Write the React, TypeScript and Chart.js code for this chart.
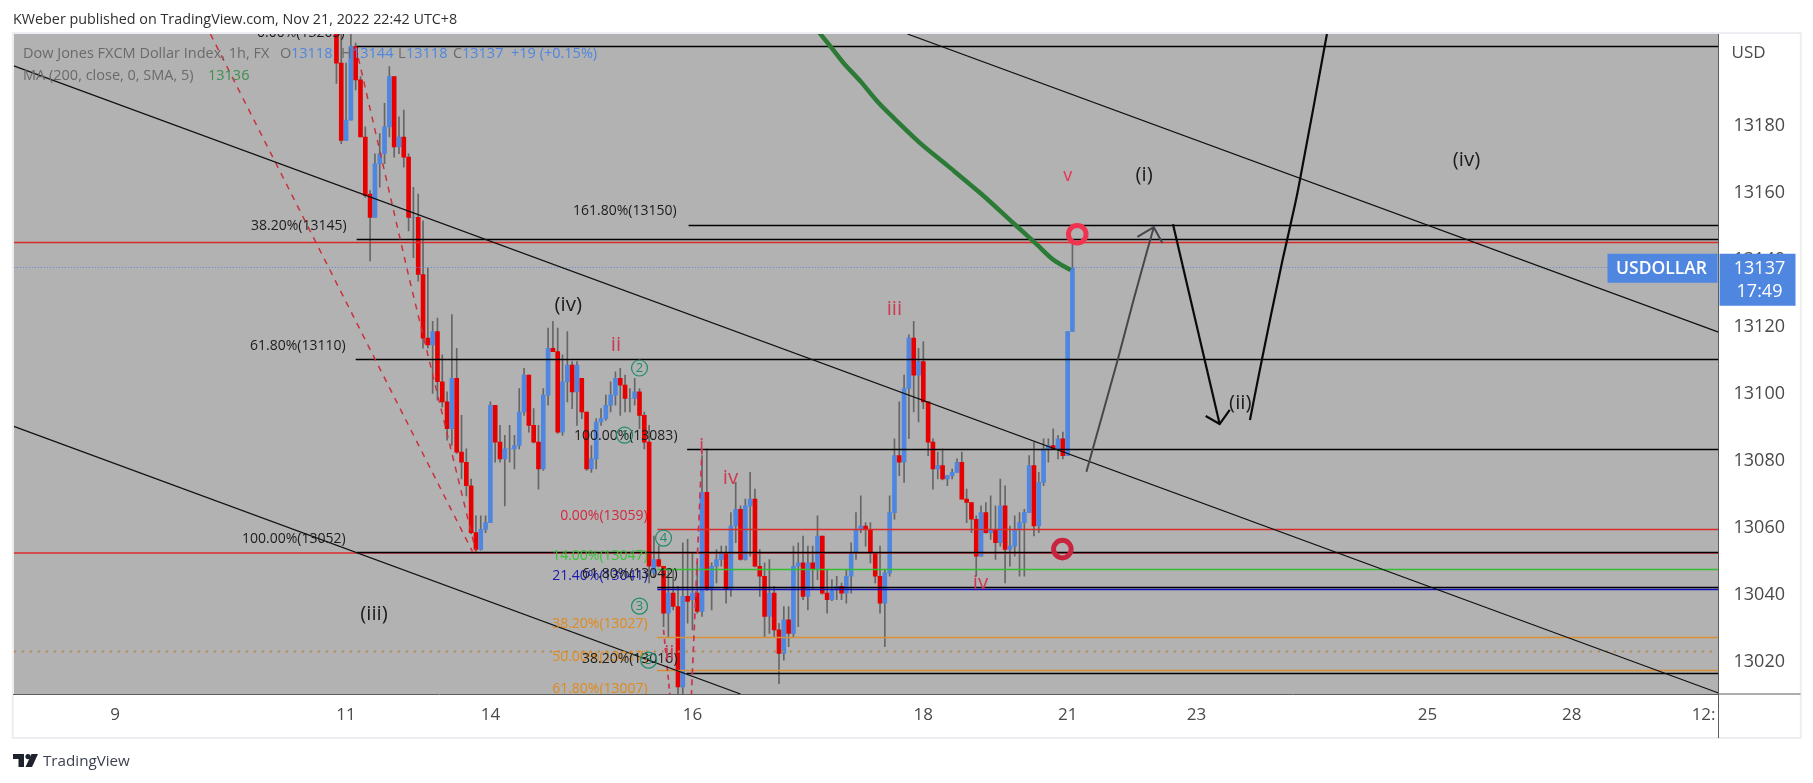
import React, { useEffect, useRef } from "react";
import { Chart, registerables } from "chart.js";

Chart.register(...registerables);

// one hourly bar per index, bar 0 is the first one visible at the top left
const opens = [
  13225, 13198, 13175, 13181, 13203, 13193, 13176, 13159, 13152, 13168,
  13171, 13179, 13194, 13173, 13176, 13170, 13152, 13152, 13135, 13116,
  13114, 13118, 13103, 13097, 13089, 13104, 13082, 13079, 13072, 13058,
  13053, 13059, 13061, 13096, 13085, 13080, 13083, 13083, 13084, 13094,
  13105, 13090, 13085, 13077, 13099, 13113, 13112, 13088, 13103, 13108,
  13100, 13104, 13094, 13077, 13080, 13091, 13092, 13096, 13099, 13104,
  13102, 13098, 13098, 13100, 13093, 13085, 13046, 13050, 13048, 13034,
  13040, 13036, 13012, 13039, 13038, 13040, 13034.5, 13070, 13041, 13048,
  13050, 13052, 13041, 13060, 13065, 13050, 13066, 13068, 13048, 13045,
  13033, 13040, 13029, 13022, 13032, 13028, 13048, 13049, 13039, 13049,
  13047, 13057, 13040, 13038, 13041, 13042, 13040, 13045, 13052, 13059,
  13060, 13059, 13052, 13045, 13037, 13046, 13064, 13081, 13079, 13101,
  13116, 13105, 13109, 13097, 13085, 13077, 13078, 13074, 13075, 13076,
  13079, 13068, 13067, 13062, 13051, 13064, 13058, 13059, 13055, 13066,
  13053, 13054, 13059, 13061, 13064, 13078, 13060, 13073, 13083, 13084,
  13083, 13086, 13081, 13118,
];
const closes = [
  13198, 13175, 13181, 13203, 13193, 13176, 13158.5, 13152, 13168, 13171,
  13179, 13194, 13173, 13176, 13170, 13152, 13152, 13135, 13116, 13114,
  13118, 13103, 13097, 13089, 13104, 13082, 13079, 13072, 13058, 13053,
  13059, 13061, 13096, 13085, 13080, 13083, 13083, 13084, 13094, 13105,
  13090, 13085, 13077, 13099, 13113, 13112, 13088, 13103, 13108, 13100,
  13108, 13094, 13077, 13080, 13091, 13092, 13096, 13099, 13104, 13102,
  13098, 13098, 13100, 13093, 13085, 13048, 13050, 13048, 13034, 13040,
  13036, 13012, 13039, 13037.5, 13040, 13034.5, 13070, 13041, 13048, 13050,
  13052, 13041, 13060, 13065, 13050, 13066, 13068, 13048, 13045, 13033,
  13040, 13029, 13022, 13032, 13028, 13048, 13049, 13039, 13049, 13047,
  13057, 13040, 13038, 13041, 13042, 13040, 13045, 13052, 13059, 13060,
  13059, 13052, 13045, 13037, 13046, 13064, 13081, 13079, 13101, 13116,
  13105, 13109, 13097, 13085, 13077, 13078, 13074, 13075, 13076, 13079,
  13068, 13067, 13062, 13051, 13064, 13058, 13059, 13055, 13066, 13053,
  13054, 13059, 13061, 13064, 13078, 13060, 13073, 13083, 13084, 13083,
  13086, 13081, 13118, 13137,
];
const highs = [
  13230, 13209, 13198, 13210, 13204, 13194, 13179, 13160, 13171, 13177,
  13186, 13197, 13194, 13182, 13184, 13171, 13161, 13159, 13151, 13137,
  13121, 13122, 13111, 13100, 13123, 13113, 13093, 13083, 13074, 13063,
  13063, 13063, 13097, 13096, 13090, 13087, 13090, 13087, 13101, 13107,
  13105, 13095, 13090, 13101, 13119, 13121, 13119, 13111, 13118, 13109,
  13109, 13104, 13094, 13084, 13092, 13095, 13099, 13103, 13106, 13107,
  13105, 13101, 13104, 13101, 13094, 13090, 13057, 13054, 13048, 13047,
  13047, 13042, 13055, 13056, 13052, 13049, 13081, 13083, 13049, 13053,
  13054, 13054, 13064, 13073, 13066, 13068, 13076, 13071, 13053, 13049,
  13050, 13042, 13031, 13036, 13036, 13054, 13055, 13057, 13054, 13054,
  13063, 13057, 13047, 13044, 13045, 13043, 13047, 13055, 13064, 13069,
  13061, 13061, 13052, 13054, 13047, 13069, 13086, 13097, 13105, 13117,
  13121, 13113, 13115, 13097, 13086, 13082, 13083, 13075, 13077, 13080,
  13082, 13071, 13067, 13063, 13066, 13067, 13069, 13066, 13074, 13072,
  13060, 13063, 13064, 13065, 13081, 13085, 13076, 13086, 13086, 13089,
  13087, 13088, 13118, 13144,
];
const lows = [
  13192, 13174, 13175, 13181, 13190, 13176, 13158, 13139, 13152, 13161,
  13168, 13176, 13170, 13171, 13167, 13148, 13140, 13133, 13113, 13113,
  13099.5, 13097.5, 13095.5, 13085.6, 13084, 13081.6, 13074, 13069, 13057.6, 13052.5,
  13052.8, 13058, 13061, 13079, 13079, 13066, 13079, 13077, 13083, 13093,
  13088, 13084.8, 13071, 13076.6, 13096, 13112, 13087.6, 13087, 13097, 13095,
  13090, 13092, 13076.6, 13076, 13077, 13090, 13091.5, 13094, 13096, 13093,
  13094, 13094, 13096, 13089, 13083, 13043, 13044.8, 13047.8, 13030, 13027,
  13035, 13010, 13010, 13031, 13029, 13034, 13033, 13040.7, 13035, 13043,
  13048, 13037, 13039, 13055, 13049.8, 13049.8, 13051, 13047.8, 13039, 13027,
  13028, 13027, 13013, 13020, 13024, 13027, 13030, 13038, 13035, 13041,
  13044, 13039.7, 13034, 13037.7, 13038, 13038, 13037, 13040, 13050, 13058,
  13054, 13049, 13043, 13034, 13024, 13045, 13062, 13075, 13073, 13086,
  13094, 13091, 13095, 13081, 13071, 13074, 13073.7, 13072, 13074, 13076,
  13068, 13061, 13058, 13045, 13051, 13057.8, 13056, 13050, 13054, 13043,
  13048, 13051, 13045, 13045, 13064, 13057, 13058, 13072, 13079, 13083,
  13080, 13080, 13081, 13118,
];

const maBars = [99.5, 100.6, 102.7, 105.5, 109, 112.5, 115.9, 121.4, 126.9, 133.9, 140.8, 145.7, 149.1, 152.6];
const maValues = [13209, 13206.7, 13203, 13197.9, 13192.5, 13186.5, 13181.6, 13174.1, 13167.6, 13159.2, 13150.2, 13143.8, 13139.3, 13136.3];

const yTickValues = [13020, 13040, 13060, 13080, 13100, 13120, 13140, 13160, 13180];
const xTickBars = [-46, 2, 32, 74, 122, 152, 178.8, 226.8, 256.8, 284.2];
const xTickLabels = ["9", "11", "14", "16", "18", "21", "23", "25", "28", "12:"];

const firstBar = -67.07;
const lastBar = 287.3;
const lastPrice = 13137;

// horizontal fib levels: price, first bar
const blackLevels = [
  [13202.97, 4.2], [13149.6, 73.2], [13145.42, 4.2], [13109.64, 4], [13082.81, 72.9],
  [13052.1, 4.2], [13041.66, 66.7], [13016.01, 72.8],
];
const redLevels = [[13144.53, firstBar], [13051.95, firstBar], [13058.95, 66.7]];
const orangeLevels = [[13026.75, 66.7], [13016.91, 66.7]];
const greenLevels = [[13047.02, 66.7]];
const blueLevels = [[13041.06, 66.7]];
const dottedOrangeLevel = 13022.57;
const dottedLastLevel = 13137.07;

// drawn trend lines as [bar, price]
const channelUpper = [[118.7, 13206.7], [lastBar, 13117.8]];
const channelMiddle = [[firstBar, 13197.2], [lastBar, 13010.2]];
const channelLower = [[firstBar, 13089.7], [84, 13009.9]];
const dashedOne = [[-26.2, 13206.7], [28.3, 13052.3]];
const dashedTwo = [[4, 13203], [15.2, 13133.4], [29, 13052.3]];
const dashedThree = [[76, 13083.1], [73.8, 13009.9]];
const dashedFour = [[68, 13029], [69.3, 13009.9]];
const grayArrow = [[155.9, 13076.2], [162.4, 13109.5], [165.7, 13127.4], [169.9, 13149.1]];
const grayArrowHead = [[166.5, 13146.2], [169.9, 13149.1], [171.7, 13144.4]];
const blackDown = [[173.9, 13150], [183.6, 13090.4]];
const blackDownHead = [[180.7, 13092.8], [183.6, 13090.4], [185.7, 13094.6]];
const blackUp = [[189.9, 13091.6], [192.4, 13109.7], [196.3, 13136.8], [198.2, 13149], [200, 13161], [205.9, 13206.7]];

const ringUpper = [[154, 13147]];
const ringLower = [[150.9, 13053.1]];

// text on the chart, anchored by bar and price
const waveLabels: [string, number, number, string][] = [
  ["(iv)", 48.2, 13125.9, "#1c1c1c"],
  ["(iii)", 7.8, 13033.8, "#1c1c1c"],
  ["(i)", 167.9, 13164.6, "#1c1c1c"],
  ["(ii)", 187.9, 13096.5, "#1c1c1c"],
  ["(iv)", 234.9, 13169.1, "#1c1c1c"],
  ["ii", 58.1, 13114, "#cf3a52"],
  ["i", 75.9, 13083.8, "#cf3a52"],
  ["iv", 81.9, 13074.3, "#cf3a52"],
  ["ii", 69.2, 13022.1, "#cf3a52"],
  ["iii", 116, 13124.7, "#cf3a52"],
  ["iv", 133.9, 13043, "#cf3a52"],
  ["v", 152, 13164.4, "#e8324f"],
];
const circledLabels: [string, number, number][] = [
  ["1", 59.9, 13087.1],
  ["2", 63, 13107.1],
  ["3", 63, 13036.1],
  ["4", 68, 13056.4],
  ["5", 64.9, 13020],
];
const fibLabels: [string, number, number, string][] = [
  ["0.00%(13203)", 1.7, 13207, "#1c1c1c"],
  ["38.20%(13145)", 2.1, 13149.4, "#1c1c1c"],
  ["161.80%(13150)", 70.7, 13153.9, "#1c1c1c"],
  ["61.80%(13110)", 1.9, 13113.8, "#1c1c1c"],
  ["100.00%(13083)", 70.9, 13086.9, "#1c1c1c"],
  ["0.00%(13059)", 64.7, 13063, "#d3283c"],
  ["100.00%(13052)", 1.9, 13056.1, "#1c1c1c"],
  ["14.00%(13047)", 64.7, 13051, "#35c435"],
  ["21.40%(13041)", 64.7, 13045, "#1a1ab0"],
  ["61.80%(13042)", 70.9, 13045.6, "#1c1c1c"],
  ["38.20%(13027)", 64.7, 13030.7, "#e08a1e"],
  ["50.00%(13017)", 64.7, 13021, "#e08a1e"],
  ["38.20%(13016)", 70.9, 13020.3, "#1c1c1c"],
  ["61.80%(13007)", 64.7, 13011.4, "#e08a1e"],
];

const FONT = '"Open Sans", sans-serif';
const BLUE = "#4f86e0";
const RED = "#e60000";

const toPoints = (pairs: number[][]) => pairs.map(([x, y]) => ({ x, y }));

function lineSet(pairs: number[][], color: string, width: number, dash: number[] = [], tension = 0) {
  return {
    type: "line" as const,
    data: toPoints(pairs),
    borderColor: color,
    borderWidth: width,
    borderDash: dash,
    pointRadius: 0,
    tension,
    fill: false,
    order: 1,
  };
}

const levelSets = (levels: number[][], color: string, width = 1.4) =>
  levels.map(([price, start]) => lineSet([[start, price], [lastBar, price]], color, width));

function ringSet(pairs: number[][], color: string) {
  return {
    type: "scatter" as const,
    data: toPoints(pairs),
    pointRadius: 8.8,
    pointBorderWidth: 5,
    pointBorderColor: color,
    pointBackgroundColor: "rgba(0,0,0,0)",
    order: 0,
  };
}

const pagePlugin = {
  id: "page",
  beforeDraw(chart: any) {
    const { ctx, chartArea: a, width, height } = chart;
    ctx.save();
    ctx.fillStyle = "#ffffff";
    ctx.fillRect(0, 0, width, height);
    ctx.fillStyle = "#b2b2b2";
    ctx.fillRect(a.left, a.top, a.right - a.left, a.bottom - a.top);
    ctx.strokeStyle = "#eceef1";
    ctx.lineWidth = 2;
    ctx.strokeRect(a.left - 1, a.top - 1, 1788, 705);
    ctx.strokeStyle = "#5d5d5d";
    ctx.lineWidth = 1;
    ctx.beginPath();
    ctx.moveTo(a.right, a.bottom);
    ctx.lineTo(a.right, a.bottom + 44);
    ctx.moveTo(a.right, a.bottom);
    ctx.lineTo(a.right + 82, a.bottom);
    ctx.stroke();
    ctx.restore();
  },
  afterDatasetsDraw(chart: any) {
    const { ctx, chartArea: a, scales } = chart;
    const px = (v: number) => scales.x.getPixelForValue(v);
    const py = (v: number) => scales.y.getPixelForValue(v);
    ctx.save();
    ctx.beginPath();
    ctx.rect(a.left, a.top, a.right - a.left, a.bottom - a.top);
    ctx.clip();
    ctx.textBaseline = "middle";

    ctx.font = `14px ${FONT}`;
    ctx.textAlign = "right";
    fibLabels.forEach(([text, bar, price, color]) => {
      ctx.fillStyle = color;
      ctx.fillText(text, px(bar), py(price));
    });

    ctx.textAlign = "center";
    waveLabels.forEach(([text, bar, price, color]) => {
      ctx.font = `${text === "v" ? 18 : 20.5}px ${FONT}`;
      ctx.fillStyle = color;
      ctx.fillText(text, px(bar), py(price));
    });

    ctx.font = `13px ${FONT}`;
    circledLabels.forEach(([text, bar, price]) => {
      ctx.strokeStyle = "#1f8c6e";
      ctx.fillStyle = "#1f8c6e";
      ctx.lineWidth = 1.2;
      ctx.beginPath();
      ctx.arc(px(bar), py(price), 8, 0, Math.PI * 2);
      ctx.stroke();
      ctx.fillText(text, px(bar), py(price) + 0.5);
    });

    // legend block
    ctx.textAlign = "left";
    ctx.font = `14.5px ${FONT}`;
    const legendRow = a.top + 20;
    const legendParts: [string, number, string][] = [
      ["Dow Jones FXCM Dollar Index, 1h, FX", 23, "#6a6a6a"],
      ["O", 280, "#6a6a6a"],
      ["13118", 291, BLUE],
      ["H", 341, "#6a6a6a"],
      ["13144", 352, BLUE],
      ["L", 398, "#6a6a6a"],
      ["13118", 406, BLUE],
      ["C", 453, "#6a6a6a"],
      ["13137", 462, BLUE],
      ["+19 (+0.15%)", 511, BLUE],
    ];
    legendParts.forEach(([text, x, color]) => {
      ctx.fillStyle = color;
      ctx.fillText(text, x, legendRow);
    });
    ctx.fillStyle = "#6a6a6a";
    ctx.fillText("MA (200, close, 0, SMA, 5)", 23, a.top + 42);
    ctx.fillStyle = "#3f8f4f";
    ctx.fillText("13136", 208, a.top + 42);
    ctx.restore();
  },
  afterDraw(chart: any) {
    const { ctx, chartArea: a, scales } = chart;
    const y = scales.y.getPixelForValue(lastPrice);
    ctx.save();
    ctx.fillStyle = BLUE;
    ctx.fillRect(a.right - 111, y - 14, 110, 29);
    ctx.fillRect(a.right + 1, y - 14, 76, 52);
    ctx.fillStyle = "#ffffff";
    ctx.textBaseline = "middle";
    ctx.textAlign = "center";
    ctx.font = `600 17.5px ${FONT}`;
    ctx.fillText("USDOLLAR", a.right - 57, y + 1);
    ctx.font = `18px ${FONT}`;
    ctx.fillText("13137", a.right + 41, y + 1);
    ctx.fillText("17:49", a.right + 41, y + 24);

    ctx.textAlign = "left";
    ctx.fillStyle = "#4a4a4a";
    ctx.font = `17px ${FONT}`;
    ctx.fillText("USD", a.right + 13, a.top + 19);

    ctx.fillStyle = "#2f2f2f";
    ctx.font = `14.35px ${FONT}`;
    ctx.fillText("KWeber published on TradingView.com, Nov 21, 2022 22:42 UTC+8", 13, 20);

    // TradingView logo and name
    ctx.fillStyle = "#1e222d";
    ctx.fillRect(13, 754, 11, 5);
    ctx.fillRect(18.5, 754, 5.5, 13);
    ctx.beginPath();
    ctx.arc(28, 756.6, 2.6, 0, Math.PI * 2);
    ctx.fill();
    ctx.beginPath();
    ctx.moveTo(31.5, 754);
    ctx.lineTo(38, 754);
    ctx.lineTo(32, 767);
    ctx.lineTo(25.5, 767);
    ctx.closePath();
    ctx.fill();
    ctx.fillStyle = "#3d4250";
    ctx.font = `15.2px ${FONT}`;
    ctx.fillText("TradingView", 43, 762);
    ctx.restore();
  },
};

export default function App() {
  const canvasRef = useRef<HTMLCanvasElement | null>(null);

  useEffect(() => {
    if (!canvasRef.current) return;

    const barColors = opens.map((o, i) => (closes[i] >= o ? BLUE : RED));
    const maLine = maBars.map((x, i) => [x, maValues[i]]);

    const chart = new Chart(canvasRef.current, {
      type: "bar",
      data: {
        datasets: [
          ringSet(ringUpper, "#f0344f"),
          ringSet(ringLower, "#c9243f"),
          lineSet(grayArrow, "#45474d", 2, [], 0.3),
          lineSet(grayArrowHead, "#45474d", 2),
          lineSet(blackDown, "#0a0a0a", 2.2),
          lineSet(blackDownHead, "#0a0a0a", 2.2),
          lineSet(blackUp, "#0a0a0a", 2.2, [], 0.4),
          lineSet(maLine, "#2b7a35", 4.5, [], 0.3),
          lineSet(channelUpper, "#101010", 1.2),
          lineSet(channelMiddle, "#101010", 1.2),
          lineSet(channelLower, "#101010", 1.2),
          lineSet(dashedOne, "#c8323f", 1.5, [6, 6]),
          lineSet(dashedTwo, "#c8323f", 1.5, [6, 6]),
          lineSet(dashedThree, "#cf3050", 1.7, [6, 5]),
          lineSet(dashedFour, "#cf3050", 1.7, [5, 4]),
          ...levelSets(blackLevels, "#000000"),
          ...levelSets(redLevels, "#d92b2b"),
          ...levelSets(orangeLevels, "#d98f36"),
          ...levelSets(greenLevels, "#2fbf2f"),
          ...levelSets(blueLevels, "#1212b8"),
          lineSet([[firstBar, dottedOrangeLevel], [lastBar, dottedOrangeLevel]], "#b08a50", 2, [2, 6]),
          lineSet([[firstBar, dottedLastLevel], [lastBar, dottedLastLevel]], "#5f86d8", 1, [1, 2]),
          {
            type: "bar" as const,
            data: opens.map((o, i) => ({ x: i, y: [o, closes[i]] })),
            backgroundColor: barColors,
            barThickness: 4,
            grouped: false,
            order: 2,
          },
          {
            type: "bar" as const,
            data: highs.map((h, i) => ({ x: i, y: [lows[i], h] })),
            backgroundColor: "#666666",
            barThickness: 1,
            grouped: false,
            order: 3,
          },
        ] as any,
      },
      options: {
        responsive: false,
        animation: false,
        devicePixelRatio: 1,
        layout: { padding: { left: 13.4, top: 34, right: 12.5, bottom: 45 } },
        plugins: {
          legend: { display: false },
          tooltip: { enabled: false },
        },
        scales: {
          x: {
            type: "linear",
            min: firstBar,
            max: lastBar,
            offset: false,
            grid: { drawOnChartArea: false, drawTicks: false },
            border: { color: "#5d5d5d" },
            afterBuildTicks: (axis: any) => {
              axis.ticks = xTickBars.map(value => ({ value }));
            },
            afterFit: (axis: any) => {
              axis.height = 44;
            },
            ticks: {
              autoSkip: false,
              maxRotation: 0,
              padding: 11,
              color: "#4a4a4a",
              font: { family: FONT, size: 17 },
              callback: (value: any) => xTickLabels[xTickBars.indexOf(Number(value))] ?? "",
            },
          },
          y: {
            type: "linear",
            position: "right",
            min: 13009.9,
            max: 13206.7,
            grid: { drawOnChartArea: false, drawTicks: false },
            border: { color: "#5d5d5d" },
            afterBuildTicks: (axis: any) => {
              axis.ticks = yTickValues.map(value => ({ value }));
            },
            afterFit: (axis: any) => {
              axis.width = 82;
            },
            ticks: {
              padding: 15,
              labelOffset: 2,
              color: "#4a4a4a",
              font: { family: FONT, size: 18 },
              callback: (value: any) => String(value),
            },
          },
        },
      },
      plugins: [pagePlugin],
    } as any);

    return () => {
      chart.destroy();
    };
  }, []);

  return (
    <div style={{ position: "absolute", left: 0, top: 0, width: 1813, height: 783 }}>
      <canvas ref={canvasRef} width={1813} height={783} style={{ display: "block" }} />
    </div>
  );
}
